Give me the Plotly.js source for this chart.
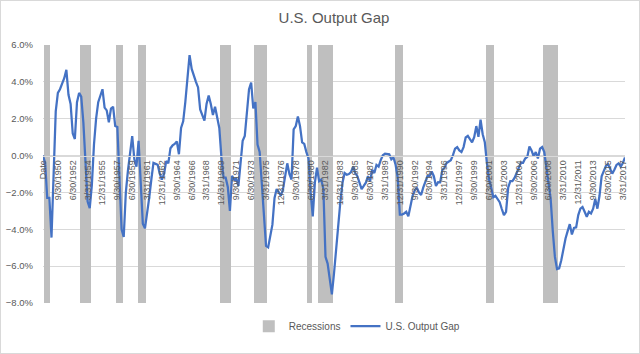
<!DOCTYPE html>
<html>
<head>
<meta charset="utf-8">
<script src="https://cdn.plot.ly/plotly-3.0.1.min.js"></script>
<style>
  html, body { margin: 0; padding: 0; background: #fff; }
  #chart { width: 638px; height: 352px; border: 1px solid #d9d9d9; }
</style>
</head>
<body>
<div id="chart"></div>
<script>
// ---- Categories (quarter-end dates, first category is the "Date" header) ----
const headerLabel = 'Date';
const firstYear = 1949;
const lastYear = 2017;
const lastQuarter = 2;
const quarterEnds = ['3/31/', '6/30/', '9/30/', '12/31/'];

const dates = [headerLabel];
for (let y = firstYear; y <= lastYear; y++) {
  for (let q = 0; q < 4; q++) {
    if (y === lastYear && q >= lastQuarter) break;
    dates.push(quarterEnds[q] + y);
  }
}

// ---- Tick labels shown on the category axis ----
const tickLabels = ['Date', '9/30/1950', '6/30/1952', '3/31/1954', '12/31/1955', '9/30/1957',
  '6/30/1959', '3/31/1961', '12/31/1962', '9/30/1964', '6/30/1966', '3/31/1968', '12/31/1969',
  '9/30/1971', '6/30/1973', '3/31/1975', '12/31/1976', '9/30/1978', '6/30/1980', '3/31/1982',
  '12/31/1983', '9/30/1985', '6/30/1987', '3/31/1989', '12/31/1990', '9/30/1992', '6/30/1994',
  '3/31/1996', '12/31/1997', '9/30/1999', '6/30/2001', '3/31/2003', '12/31/2004', '9/30/2006',
  '6/30/2008', '3/31/2010', '12/31/2011', '9/30/2013', '6/30/2015', '3/31/2017'];

// ---- U.S. Output Gap (%), one value per category ----
const outputGap = [
  0.0, -0.4, -2.3, -2.3, -4.45, -1.5, 2.4, 3.4, 3.6, 3.9,
  4.2, 4.65, 3.3, 2.8, 1.2, 0.9, 2.9, 3.4, 3.2, 1.8,
  -0.5, -2.5, -2.85, -1.6, 0.6, 2.0, 2.9, 3.3, 3.6, 2.6,
  2.45, 1.8, 2.55, 2.65, 1.6, 1.55, -1.5, -4.0, -4.42, -2.0,
  -0.8, 0.0, 1.05, -0.2, -0.6, 0.8, -1.3, -3.7, -3.95, -3.2,
  -2.3, -1.3, -0.4, -0.45, -0.5, -1.0, -1.3, -1.0, -0.3, -0.42,
  0.4, 0.55, 0.63, 0.77, 0.07, 1.5, 1.86, 2.9, 4.05, 5.45,
  4.7, 4.3, 4.0, 3.7, 2.5, 2.2, 1.9, 2.8, 3.26, 2.8,
  2.2, 2.65, 2.0, 1.5, -0.1, -1.2, -1.2, -1.7, -3.0, -1.1,
  -1.3, -1.25, -1.65, -0.25, 0.8, 1.07, 2.4, 3.6, 3.96, 2.56,
  2.9, 0.6, 0.2, -1.5, -3.4, -4.9, -4.98, -4.3, -3.75, -2.3,
  -1.82, -2.0, -2.18, -1.82, -1.12, -0.42, -1.0, -1.3, 1.42, 1.6,
  2.12, 1.6, 0.72, 0.63, 0.19, -0.16, -2.0, -3.3, -1.47, -0.65,
  -1.39, -1.3, -1.82, -5.5, -5.86, -6.74, -7.53, -6.4, -5.0, -3.6,
  -2.5, -1.47, -0.95, -1.04, -1.0, -0.9, -0.6, -0.95, -1.12, -1.47,
  -1.82, -1.65, -1.47, -1.12, -1.39, -0.77, -0.95, -0.51, -0.6, -0.25,
  0.02, 0.1, 0.1, 0.07, -0.2, -0.1, -0.5, -1.2, -3.2, -3.2,
  -3.14, -3.05, -3.3, -2.7, -2.18, -1.9, -1.74, -2.0, -2.14, -1.74,
  -1.47, -1.12, -1.12, -0.86, -1.12, -1.65, -1.44, -1.45, -0.77, -0.68,
  -0.4, -0.3, -0.25, 0.02, 0.37, 0.46, 0.28, 0.19, 0.46, 0.98,
  1.07, 0.89, 0.72, 1.0, 1.6, 1.02, 1.95, 1.16, 0.72, -0.42,
  -1.3, -1.74, -2.26, -2.18, -2.35, -2.53, -2.9, -3.23, -3.05, -1.74,
  -1.39, -1.39, -1.21, -0.95, -0.68, -0.39, -0.39, -0.16, -0.07, 0.49,
  0.28, -0.04, 0.19, -0.16, 0.37, 0.46, 0.19, -0.77, -1.47, -2.35,
  -4.1, -5.5, -6.16, -6.12, -5.68, -5.0, -4.5, -4.1, -3.72, -4.28,
  -3.93, -3.9, -3.23, -2.88, -2.79, -3.05, -3.32, -3.05, -3.14, -2.88,
  -2.35, -2.88, -2.18, -1.12, -0.86, -0.56, -0.46, -0.68, -0.98, -0.77,
  -0.51, -0.42, -0.6, -0.4, -0.1
];

// ---- Recession periods (first and last quarter shaded) ----
const recessionStart = ['3/31/1949', '6/30/1953', '9/30/1957', '3/31/1960', '12/31/1969',
  '12/31/1973', '3/31/1980', '6/30/1981', '6/30/1990', '3/31/2001', '12/31/2007'];
const recessionEnd = ['9/30/1949', '6/30/1954', '3/31/1958', '12/31/1960', '12/31/1970',
  '3/31/1975', '6/30/1980', '12/31/1982', '3/31/1991', '12/31/2001', '6/30/2009'];
const recessionFlag = 1;

// Build recession bar categories from the periods
const recX = [], recY = [];
for (let k = 0; k < recessionStart.length; k++) {
  const a = dates.indexOf(recessionStart[k]);
  const b = dates.indexOf(recessionEnd[k]);
  for (let i = a; i <= b; i++) { recX.push(dates[i]); recY.push(recessionFlag); }
}

const textColor = '#595959';
const font = 'Liberation Sans, Arial, sans-serif';

const traces = [
  {
    type: 'bar', name: 'Recessions', x: recX, y: recY, yaxis: 'y',
    width: 1, marker: { color: '#BFBFBF', line: { width: 0 } },
    hoverinfo: 'skip'
  },
  {
    type: 'scatter', mode: 'lines', name: 'U.S. Output Gap', x: dates, y: outputGap,
    yaxis: 'y2', line: { color: '#4472C4', width: 2.25 }
  }
];

const layout = {
  width: 638, height: 352,
  margin: { l: 42, r: 14, t: 44, b: 41 },
  paper_bgcolor: '#ffffff', plot_bgcolor: '#ffffff',
  font: { family: font, color: textColor, size: 9 },
  title: {
    text: 'U.S. Output Gap', x: 0.5, xanchor: 'center', xref: 'paper',
    y: 0.952, yref: 'container', yanchor: 'middle',
    font: { family: font, size: 15, color: textColor }
  },
  bargap: 0,
  showlegend: true,
  legend: {
    orientation: 'h', x: 0.54, xanchor: 'center', y: -0.09, yanchor: 'middle',
    font: { family: font, size: 10, color: textColor }, traceorder: 'normal',
    itemwidth: 30
  },
  xaxis: {
    type: 'category', categoryorder: 'array', categoryarray: dates,
    range: [0, dates.length - 1],
    anchor: 'free', position: 8 / 14,
    showline: true, linecolor: '#d9d9d9', linewidth: 1,
    showgrid: false, zeroline: false, ticks: '',
    tickmode: 'array', tickvals: tickLabels, ticktext: tickLabels,
    tickangle: -90, tickfont: { family: font, size: 9, color: textColor },
    fixedrange: true
  },
  yaxis: {
    range: [0, 1], visible: false, showgrid: false, zeroline: false, fixedrange: true
  },
  yaxis2: {
    overlaying: 'y', side: 'left', anchor: 'x',
    range: [-8, 6], dtick: 2, tick0: 0,
    tickformat: '.1f', ticksuffix: '%',
    showgrid: true, gridcolor: '#d9d9d9', gridwidth: 1,
    zeroline: false, showline: false, ticks: '',
    ticklabelstandoff: 9,
    tickfont: { family: font, size: 9.5, color: textColor },
    fixedrange: true
  }
};

Plotly.newPlot('chart', traces, layout, { displayModeBar: false, staticPlot: true });
</script>
</body>
</html>
